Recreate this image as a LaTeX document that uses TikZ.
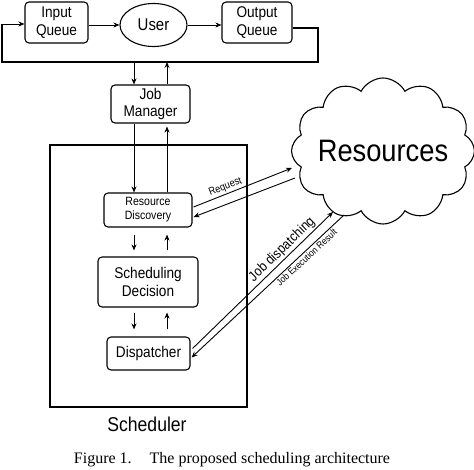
\documentclass[tikz,border=0pt]{standalone}
\usepackage{fontspec}
\usepackage{tikz}
\usetikzlibrary{arrows.meta,shapes.geometric,shapes.symbols}
\newfontfamily\arialc[FakeStretch=0.88]{Liberation Sans}
\newfontfamily\timesf{Liberation Serif}
\tikzset{
  box/.style={draw, rounded corners=4pt, line width=1.1pt, align=center, inner sep=0pt,
    font=\arialc\fontsize{15.5}{17.5}\selectfont},
  arr/.style={-{Stealth[length=6pt,width=5pt]}, line width=0.9pt},
  lbl/.style={font=\arialc\fontsize{10.5}{12}\selectfont, inner sep=1.5pt}
}

\begin{document}
\begin{tikzpicture}[x=1pt, y=-1pt]
  \useasboundingbox (0,0) rectangle (474,470);

  % top row
  \node[box, minimum width=63, minimum height=41] (inq) at (56.5,22.5) {Input\\Queue};
  \node[draw, ellipse, line width=1.1pt, minimum width=67, minimum height=43, inner sep=0pt,
        font=\arialc\fontsize{17}{19}\selectfont] (user) at (153.5,25) {User};
  \node[box, minimum width=70, minimum height=41] (outq) at (257,22.5) {Output\\Queue};

  % scheduler
  \node[box, rounded corners=0pt, minimum width=197, minimum height=262] (sched) at (148.5,276) {};
  \node[font=\arialc\fontsize{20}{22}\selectfont] (schedlbl) at (147,424) {Scheduler};

  \node[box, minimum width=79, minimum height=38] (jm) at (150.5,104) {Job\\Manager};
  \node[box, minimum width=88, minimum height=34,
        font=\arialc\fontsize{12}{14}\selectfont] (rd) at (148,210) {Resource\\Discovery};
  \node[box, minimum width=100, minimum height=50] (sd) at (148,282) {Scheduling\\Decision};
  \node[box, minimum width=83, minimum height=33] (disp) at (148.5,353.5) {Dispatcher};

  % cloud
  \node[draw, cloud, cloud puffs=12, cloud puff arc=125, cloud ignores aspect, line width=1.1pt,
        minimum width=180, minimum height=146, inner sep=0pt,
        font=\arialc\fontsize{31}{34}\selectfont] (res) at (383,151) {Resources};

  % loop
  \coordinate (l1) at (318,28);
  \coordinate (l2) at (318,62);
  \coordinate (l3) at (2,62);
  \coordinate (l4) at (2,24);
  \coordinate (dn) at (134,62);
  \coordinate (up) at (167,62);
  \draw[line width=1.6pt] (outq.east |- l1) -- (l1) -- (l2) -- (l3) -- (l4);
  \draw[arr] (l4) -- (inq.west |- l4);
  \draw[arr] (inq.east |- user.west) -- (user.west);
  \draw[arr] (user.east) -- (outq.west |- user.east);

  \draw[arr] (dn) -- (dn |- jm.north);
  \draw[arr] (up |- jm.north) -- (up);
  \draw[arr] (dn |- jm.south) -- (dn |- rd.north);
  \draw[arr] (up |- rd.north) -- ([yshift=-3pt]up |- jm.south);
  \draw[arr] ([yshift=-7pt]dn |- rd.south) -- ([yshift=6pt]dn |- sd.north);
  \draw[arr] ([yshift=6pt]up |- sd.north) -- ([yshift=-7pt]up |- rd.south);
  \draw[arr] ([yshift=-5pt]dn |- sd.south) -- ([yshift=7pt]dn |- disp.north);
  \draw[arr] ([yshift=7pt]up |- disp.north) -- ([yshift=-5pt]up |- sd.south);

  % resources links
  \coordinate (rq) at (292,168);
  \coordinate (rp) at (295,178);
  \coordinate (jd) at (333,212);
  \coordinate (jr) at (344,215);
  \draw[arr] ([yshift=3pt,xshift=1pt]rd.east) -- node[lbl, sloped, above, pos=0.35] {Request} (rq);
  \draw[arr] (rp) -- ([yshift=-7pt,xshift=1pt]rd.east);
  \draw[arr] ([yshift=5pt,xshift=2pt]disp.east) -- node[lbl, sloped, above, pos=0.68,
        font=\arialc\fontsize{14}{16}\selectfont] {Job dispatching} (jd);
  \draw[arr] (jr) -- node[lbl, sloped, below, pos=0.27,
        font=\arialc\fontsize{9.5}{11}\selectfont] {Job Execution Result} ([yshift=-4pt,xshift=1pt]disp.east);

  % caption
  \node[font=\timesf\fontsize{16}{18}\selectfont] (cap) at (232,460)
    {Figure 1.\hspace{18pt}The proposed scheduling architecture};
\end{tikzpicture}
\end{document}
